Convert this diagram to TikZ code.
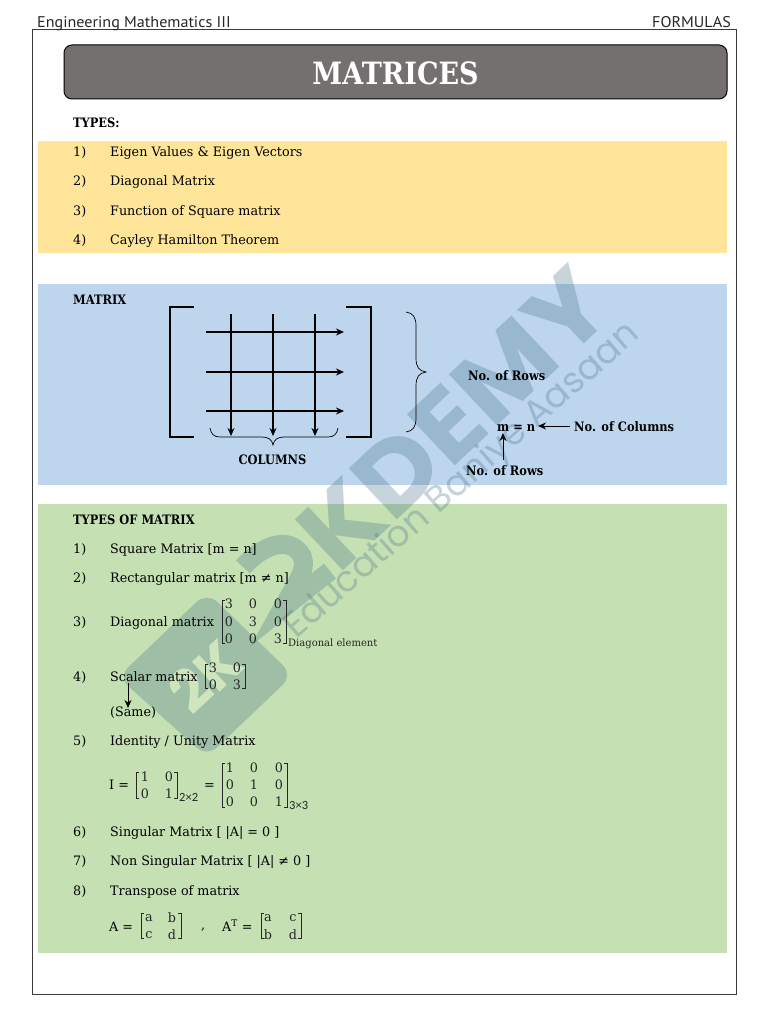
\documentclass[tikz,border=0pt]{standalone}
\usepackage{fontspec}
\setmainfont{DejaVu Serif}[FakeStretch=0.98,BoldFeatures={FakeStretch=0.88}]
\newfontfamily\hdrfont{PT Sans}[FakeStretch=1.04]
\newfontfamily\wmfont{Poppins}[FakeStretch=1.08]
\newfontfamily\tagfont{Poppins}
\newfontfamily\subfont{Carlito}
\usetikzlibrary{arrows.meta}
\definecolor{frameC}{HTML}{3A3A3A}
\definecolor{titleC}{HTML}{757070}
\definecolor{yelC}{HTML}{FFE599}
\definecolor{bluC}{HTML}{BDD6EE}
\definecolor{grnC}{HTML}{C5E0B3}
\definecolor{wmC}{RGB}{70,113,137}
\tikzset{
 x=1pt,y=-1pt,
 txt/.style={anchor=base west,inner sep=0pt,font=\fontsize{13}{16}\selectfont,text=black},
 btxt/.style={txt,font=\fontsize{13}{16}\selectfont\bfseries,text=black},
 hdr/.style={anchor=base west,inner sep=0pt,font=\hdrfont\fontsize{15.5}{16}\selectfont,text=black!85},
 ent/.style={anchor=center,inner sep=0pt,font=\fontsize{13}{15}\selectfont,text=black!85},
 small/.style={anchor=base west,inner sep=0pt,font=\subfont\fontsize{12.5}{12}\selectfont,text=black!85},
 panel/.style={fill=#1,draw=none},
 brk/.style={draw=black!85,line width=0.8pt},
 bigbrk/.style={draw=black,line width=1.9pt},
 grid/.style={draw=black,line width=1.5pt,-{Stealth[length=8pt,width=7pt]}},
 thinarr/.style={draw=black,line width=1pt,-{Stealth[length=8pt,width=7pt]}},
 brace/.style={draw=black,line width=0.7pt},
}
\newcommand{\brpair}[4]{%
 \draw[brk] (#1+3,#3) -- (#1,#3) -- (#1,#4) -- (#1+3,#4);
 \draw[brk] (#2-3,#3) -- (#2,#3) -- (#2,#4) -- (#2-3,#4);}
\begin{document}
\begin{tikzpicture}
\useasboundingbox (0,0) rectangle (768,1024);
\fill[white] (0,0) rectangle (768,1024);
% frame and header
\draw[frameC,line width=1pt] (32,30) rectangle (736,994);
\node[hdr] (h1) at (37,27.5) {Engineering Mathematics III};
\node[hdr] (h2) at (652,27.5) {FORMULAS};
\draw[rounded corners=8pt,fill=titleC,draw=black,line width=1pt] (64,45) rectangle (727,99);
\node[anchor=center,inner sep=0pt,text=white,font=\fontsize{30.7}{34}\selectfont\bfseries] (title) at (395.5,73) {MATRICES};
% panels
\fill[panel=yelC] (38,141) rectangle (727,253);
\fill[panel=bluC] (38,284) rectangle (727,485);
\fill[panel=grnC] (38,504) rectangle (727,953);
% watermark
\begin{scope}[opacity=0.3]
\node[anchor=base west,inner sep=0pt,rotate=43.3,text=wmC,font=\wmfont\fontsize{100}{100}\selectfont\bfseries] (wm1) at (338,576) {KDEMY};
\draw[wmC,line width=19pt,line join=miter,miter limit=6] (243,567) .. controls (262,545) and (290,535) .. (302,556) .. controls (308,570) and (295,585) .. (282,609) -- (330,571);
\node[anchor=base west,inner sep=0pt,rotate=41.3,text=wmC,font=\tagfont\fontsize{36}{37}\selectfont] (wm2) at (296,640) {Education Baniye Aasaan};
\fill[wmC,rounded corners=14pt] (118,677) -- (207,592) -- (293,675) -- (207,757) -- cycle;
\end{scope}
\node[anchor=center,inner sep=0pt,rotate=43,text=grnC!85!white,font=\tagfont\fontsize{58}{58}\selectfont\bfseries] (wm3) at (205,676) {2K};
% top list
\node[btxt] (typesH) at (73,128) {TYPES:};
\node[txt] (t1n) at (73,157) {1)};
\node[txt] (t1) at (110,157) {Eigen Values \& Eigen Vectors};
\node[txt] (t2n) at (73,186) {2)};
\node[txt] (t2) at (110,186) {Diagonal Matrix};
\node[txt] (t3n) at (73,215) {3)};
\node[txt] (t3) at (110,215) {Function of Square matrix};
\node[txt] (t4n) at (73,244.5) {4)};
\node[txt] (t4) at (110,244.5) {Cayley Hamilton Theorem};
% matrix panel
\node[btxt] (matH) at (73,304) {MATRIX};
\draw[bigbrk] (194,307) -- (170,307) -- (170,437) -- (194,437);
\draw[bigbrk] (346,307) -- (371,307) -- (371,437) -- (346,437);
\foreach \n/\yy in {a/332,b/372,c/411}{
 \coordinate (r\n s) at (206,\yy);
 \coordinate (r\n e) at (344,\yy);
 \draw[grid] (r\n s) -- (r\n e);}
\foreach \n/\xx in {a/231,b/273,c/315}{
 \coordinate (c\n s) at (\xx,314);
 \coordinate (c\n e) at (\xx,436);
 \draw[grid] (c\n s) -- (c\n e);}
\draw[brace] (406,312) .. controls (413,313) and (416,317) .. (416,326) -- (416,358) .. controls (416,367) and (419,371) .. (426,372) .. controls (419,373) and (416,377) .. (416,386) -- (416,418) .. controls (416,427) and (413,431) .. (406,432);
\draw[brace] (210,428) .. controls (211,434) and (214,437) .. (220,437) -- (262,437) .. controls (269,437) and (272,440) .. (273,445) .. controls (274,440) and (277,437) .. (284,437) -- (328,437) .. controls (334,437) and (337,434) .. (338,428);
\node[btxt,anchor=base] (cols) at (272.5,464) {COLUMNS};
\node[btxt] (rows1) at (468,380) {No. of Rows};
\node[btxt] (mn) at (497,431) {m = n};
\node[btxt] (ncols) at (574,431) {No. of Columns};
\node[btxt] (rows2) at (466,475) {No. of Rows};
\coordinate (mnR) at (538,426);
\coordinate (mnB) at (503,433);
\coordinate (colsL) at (570,426);
\coordinate (rowsT) at (503,460);
\draw[thinarr] (colsL) -- (mnR);
\draw[thinarr] (rowsT) -- (mnB);
% types of matrix
\node[btxt] (typH) at (73,524) {TYPES OF MATRIX};
\node[txt] (m1n) at (73,553) {1)};
\node[txt] (m1) at (110,553) {Square Matrix [m = n]};
\node[txt] (m2n) at (73,582) {2)};
\node[txt] (m2) at (110,582) {Rectangular matrix [m ≠ n]};
\node[txt] (m3n) at (73,626) {3)};
\node[txt] (m3) at (110,626) {Diagonal matrix};
\brpair{222}{286}{600}{643}
\foreach \r/\yy/\aa/\bb/\cc in {a/604/3/0/0,b/622/0/3/0,c/639/0/0/3}{
 \node[ent] (d\r1) at (229,\yy) {\aa};
 \node[ent] (d\r2) at (253,\yy) {\bb};
 \node[ent] (d\r3) at (278,\yy) {\cc};}
\node[small,font=\fontsize{10.2}{11}\selectfont] (diagE) at (288,646) {Diagonal element};
\node[txt] (m4n) at (73,681) {4)};
\node[txt] (m4) at (110,681) {Scalar matrix};
\brpair{205}{245}{664}{688}
\foreach \r/\yy/\aa/\bb in {a/668/3/0,b/685/0/3}{
 \node[ent] (s\r1) at (213,\yy) {\aa};
 \node[ent] (s\r2) at (237,\yy) {\bb};}
\coordinate (sameT) at (128,683);
\coordinate (sameB) at (128,708);
\draw[thinarr] (sameT) -- (sameB);
\node[txt] (same) at (110,716) {(Same)};
\node[txt] (m5n) at (73,745) {5)};
\node[txt] (m5) at (110,745) {Identity / Unity Matrix};
\node[txt] (ieq) at (109,789) {I =};
\brpair{136}{177}{772}{798}
\foreach \r/\yy/\aa/\bb in {a/777/1/0,b/794/0/1}{
 \node[ent] (i\r1) at (145,\yy) {\aa};
 \node[ent] (i\r2) at (169,\yy) {\bb};}
\node[small] (sub2) at (179,801) {2×2};
\node[txt] (ieq2) at (204,789) {=};
\brpair{222}{287}{763}{807}
\foreach \r/\yy/\aa/\bb/\cc in {a/768/1/0/0,b/785/0/1/0,c/802/0/0/1}{
 \node[ent] (j\r1) at (230,\yy) {\aa};
 \node[ent] (j\r2) at (254,\yy) {\bb};
 \node[ent] (j\r3) at (279,\yy) {\cc};}
\node[small] (sub3) at (289,809) {3×3};
\node[txt] (m6n) at (73,836) {6)};
\node[txt] (m6) at (110,836) {Singular Matrix [ |A| = 0 ]};
\node[txt] (m7n) at (73,865) {7)};
\node[txt] (m7) at (110,865) {Non Singular Matrix [ |A| ≠ 0 ]};
\node[txt] (m8n) at (73,895) {8)};
\node[txt] (m8) at (110,895) {Transpose of matrix};
\node[txt] (aeq) at (109,931) {A =};
\brpair{141}{181}{913}{938}
\foreach \r/\yy/\aa/\bb in {a/918/a/b,b/935/c/d}{
 \node[ent] (a\r1) at (149,\yy) {\aa};
 \node[ent] (a\r2) at (172,\yy) {\bb};}
\node[txt] (comma) at (201,929) {,};
\node[txt] (teq) at (222,931) {A\textsuperscript{T} =};
\brpair{261}{301}{913}{938}
\foreach \r/\yy/\aa/\bb in {a/918/a/c,b/935/b/d}{
 \node[ent] (b\r1) at (268,\yy) {\aa};
 \node[ent] (b\r2) at (293,\yy) {\bb};}
\end{tikzpicture}
\end{document}
